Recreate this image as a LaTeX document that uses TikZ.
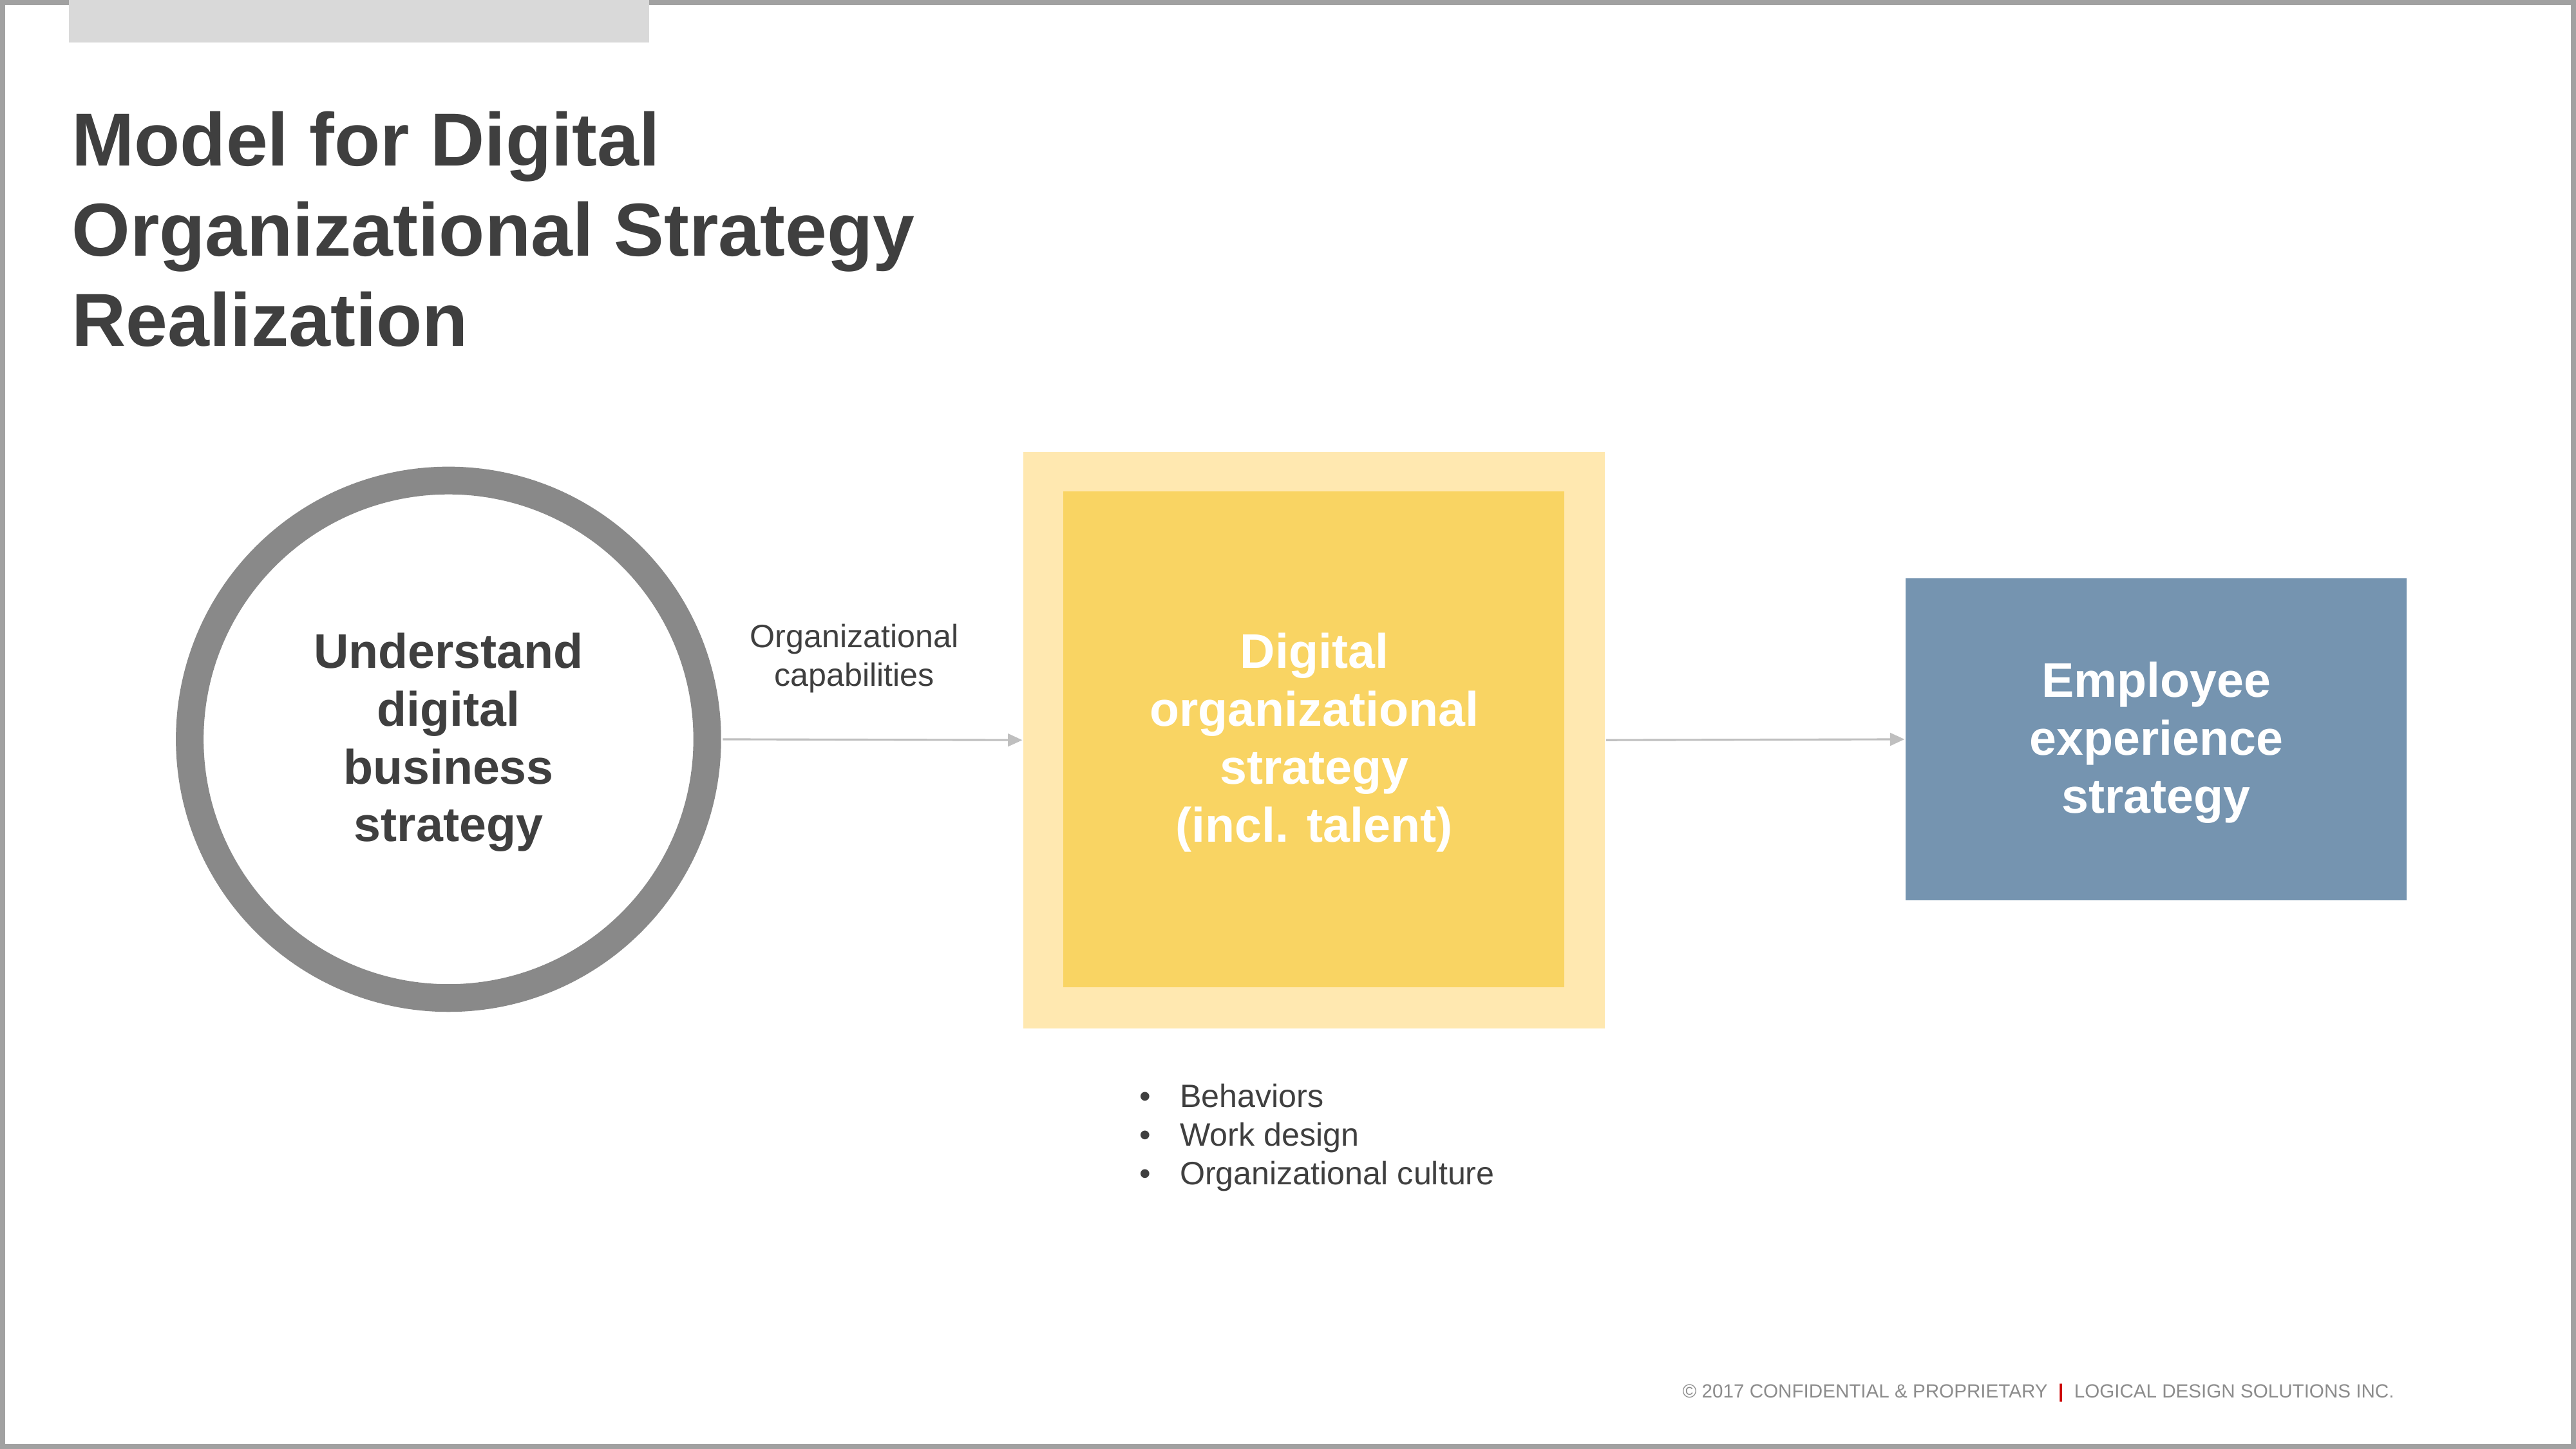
\documentclass[tikz,border=0pt]{standalone}
\usepackage{fontspec}
\setmainfont{Liberation Sans}
\usetikzlibrary{arrows.meta}
\definecolor{dark}{HTML}{3F3F3F}
\definecolor{ring}{HTML}{898989}
\definecolor{yelo}{HTML}{FFE8B0}
\definecolor{yeli}{HTML}{F9D463}
\definecolor{blu}{HTML}{7594B0}
\definecolor{conn}{HTML}{BFBFBF}
\definecolor{foot}{HTML}{8C8C8C}
\begin{document}
\begin{tikzpicture}[x=0.01cm,y=-0.01cm,
  big/.style={font=\fontsize{8.4pt}{10pt}\selectfont\bfseries,align=center},
  lbl/.style={font=\fontsize{5.6pt}{6.7pt}\selectfont,text=dark,align=center},
  arr/.style={draw=conn,line width=0.35pt,-{Triangle[length=2.5pt,width=2.2pt]}}]
\useasboundingbox (0,0) rectangle (1568,882);
\draw[ring!80,line width=0.9pt] (1.5,1.5) rectangle (1566.5,880.5);
\fill[gray!30] (42,0) rectangle (395,26);
\node[anchor=north west,font=\fontsize{13pt}{15.6pt}\selectfont\bfseries,text=dark,align=left,inner sep=0] (title) at (43,67) {Model for Digital\\Organizational Strategy\\Realization};
\draw[ring,line width=4.8pt] (273,450) circle (157.5);
\node[big,text=dark] (circ) at (273,452) {Understand\\digital\\business\\strategy};
\coordinate (cE) at (440,450);
\fill[yelo] (623,275) rectangle (977,626);
\fill[yeli] (647,299) rectangle (952,601);
\node[minimum width=354*0.01cm,minimum height=351*0.01cm,inner sep=0] (ybox) at (800,450.5) {};
\node[big,text=white] (ytxt) at (800,452) {Digital\\organizational\\strategy\\(incl. talent)};
\node[fill=blu,minimum width=305*0.01cm,minimum height=196*0.01cm,inner sep=0] (bbox) at (1312.5,450) {};
\node[big,text=white] at (1312.5,452) {Employee\\experience\\strategy};
\draw[arr] (cE) -- (ybox.west);
\draw[arr] (ybox.east) -- (bbox.west);
\node[lbl] (oc) at (520,401) {Organizational\\capabilities};
\node[lbl,align=left,anchor=north west,inner sep=0] (bul) at (693,659) {\textbullet\hspace{5pt}Behaviors\\\textbullet\hspace{5pt}Work design\\\textbullet\hspace{5pt}Organizational culture};
\node[anchor=east,font=\fontsize{3.3pt}{4pt}\selectfont,text=foot,inner sep=0] (ft) at (1458,848) {© 2017 CONFIDENTIAL \& PROPRIETARY \ \textcolor{red!80!black}{\bfseries|} \ LOGICAL DESIGN SOLUTIONS INC.};
\end{tikzpicture}
\end{document}
